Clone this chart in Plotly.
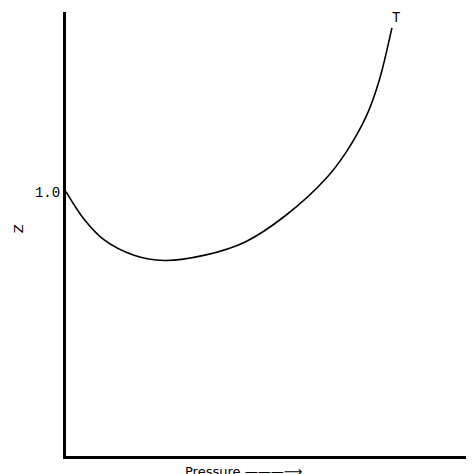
import plotly.graph_objects as go

# pressure (arbitrary units) and compressibility factor Z
pressure = [0.0, 0.42, 0.91, 1.65, 2.38, 3.37, 4.35, 5.33, 6.31, 6.8, 7.3, 7.6, 7.91]
z_vals = [1.0, 0.90, 0.82, 0.76, 0.74, 0.76, 0.81, 0.91, 1.05, 1.15, 1.29, 1.42, 1.62]

fig = go.Figure()
fig.add_trace(go.Scatter(
    x=pressure, y=z_vals, mode="lines",
    line=dict(color="black", width=1.6, shape="spline", smoothing=1.0),
    showlegend=False, hoverinfo="skip"
))

fig.add_annotation(x=pressure[-1], y=z_vals[-1], text="T", showarrow=False,
                   xanchor="left", yanchor="bottom", xshift=-2, yshift=0,
                   font=dict(family="Liberation Mono", size=14, color="black"))
fig.add_annotation(xref="paper", yref="y", x=0, y=0.86, text="Z", showarrow=False,
                   textangle=-90, xanchor="right", xshift=-38,
                   font=dict(family="DejaVu Sans", size=13, color="black"))
fig.add_annotation(xref="paper", yref="paper", x=0.43, y=0, text="Pressure ———⟶",
                   showarrow=False, xanchor="center", yanchor="top", yshift=-6,
                   font=dict(family="DejaVu Sans", size=13, color="black"))

fig.update_layout(
    width=474, height=474,
    margin=dict(l=58, r=4, t=4, b=26),
    paper_bgcolor="white", plot_bgcolor="white",
    xaxis=dict(range=[0, 10], showgrid=False, zeroline=False, showticklabels=False,
               showline=True, linecolor="black", linewidth=3, ticks=""),
    yaxis=dict(range=[0, 1.68], showgrid=False, zeroline=False,
               tickvals=[1.0], ticktext=["1.0"], ticks="",
               tickfont=dict(family="Liberation Mono", size=14, color="black"),
               showline=True, linecolor="black", linewidth=3),
)

fig.write_html("out.html")
